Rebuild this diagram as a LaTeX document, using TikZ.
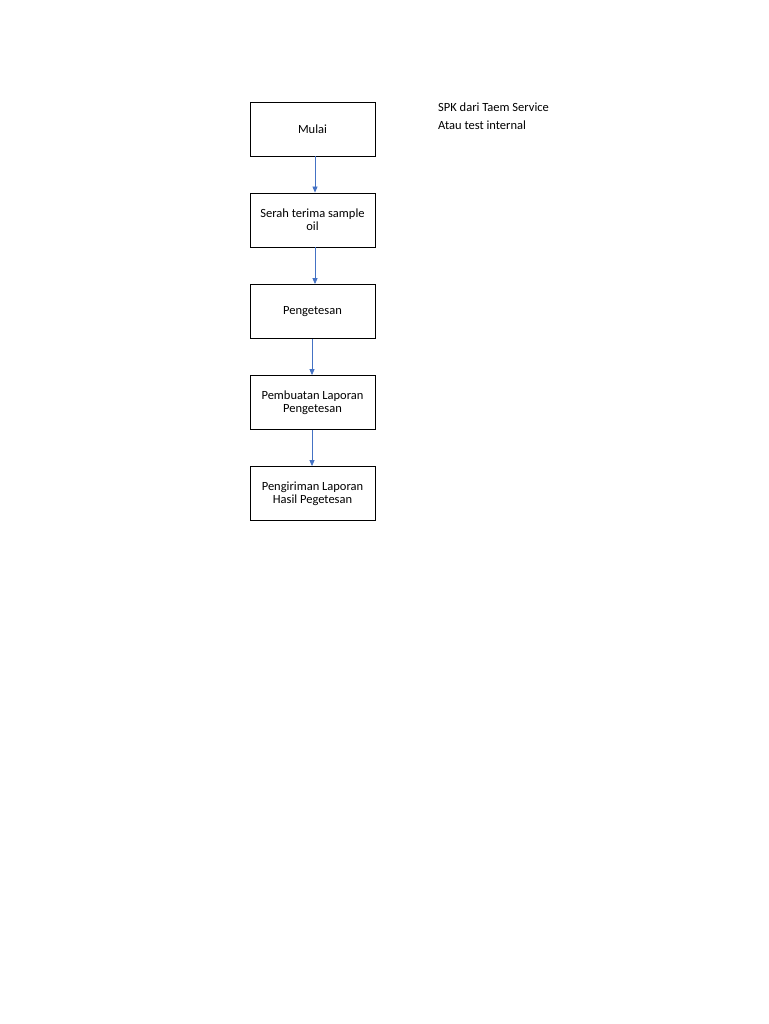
\documentclass[tikz,border=0pt]{standalone}
\usepackage{fontspec}
\setmainfont{Carlito}
\usetikzlibrary{arrows.meta}
\definecolor{arr}{RGB}{68,114,196}
\begin{document}
\begin{tikzpicture}[x=1pt,y=-1pt,
  box/.style={draw,line width=0.8pt,minimum width=125pt,minimum height=54pt,align=center,inner sep=1pt,font=\fontsize{12.5}{13}\selectfont},
  conn/.style={draw=arr,line width=0.8pt,-{Triangle[length=6pt,width=5pt]}}]
\useasboundingbox (0,0) rectangle (768,1024);
\node[box] (a) at (312.5,129) {Mulai};
\node[box] (b) at (312.5,220) {Serah terima sample\\oil};
\node[box] (c) at (312.5,311.5) {Pengetesan};
\node[box] (d) at (312.5,402.5) {Pembuatan Laporan\\Pengetesan};
\node[box] (e) at (312.5,493.5) {Pengiriman Laporan\\Hasil Pegetesan};
\node[anchor=north west,align=left,inner sep=0pt,font=\fontsize{12.5}{18}\selectfont] (t) at (438,103) {SPK dari Taem Service\\Atau test internal};
\draw[conn] ([xshift=2.5pt]a.south) -- ([xshift=2.5pt]b.north);
\draw[conn] ([xshift=2.5pt]b.south) -- ([xshift=2.5pt]c.north);
\draw[conn] ([xshift=-0.5pt]c.south) -- ([xshift=-0.5pt]d.north);
\draw[conn] ([xshift=-0.5pt]d.south) -- ([xshift=-0.5pt]e.north);
\end{tikzpicture}
\end{document}
